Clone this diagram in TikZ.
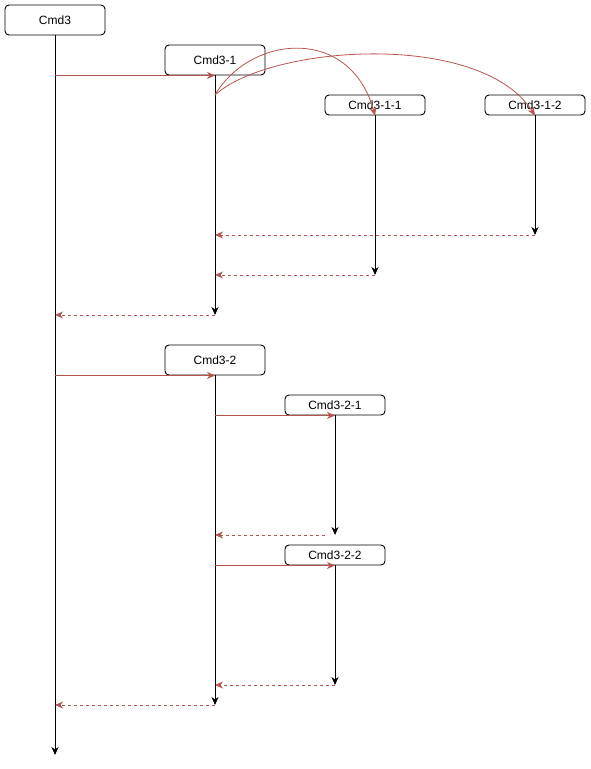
\documentclass[tikz,border=0pt]{standalone}
\usepackage{fontspec}
\setmainfont{Liberation Sans}
\usetikzlibrary{arrows.meta,calc}

\begin{document}
\begin{tikzpicture}[x=1pt,y=-1pt,>={Stealth[length=8pt,width=7pt,inset=2.5pt]}]

\definecolor{msgred}{HTML}{B85450}

\tikzset{
	cmd/.style={draw,rounded corners=4pt,line width=0.9pt,minimum width=100pt,
		inner sep=0pt,font=\fontsize{12}{14}\selectfont},
	life/.style={->,line width=0.9pt},
	call/.style={->,color=msgred,line width=0.8pt},
	ret/.style={->,color=msgred,line width=0.8pt,dash pattern=on 3pt off 3pt}
}

\useasboundingbox (0,0) rectangle (591,769);

% boxes
\node[cmd,minimum height=30pt] (c3)   at (55,20)   {Cmd3};
\node[cmd,minimum height=30pt] (c31)  at (215,60)  {Cmd3-1};
\node[cmd,minimum height=20pt] (c311) at (375,105) {Cmd3-1-1};
\node[cmd,minimum height=20pt] (c312) at (535,105) {Cmd3-1-2};
\node[cmd,minimum height=30pt] (c32)  at (215,360) {Cmd3-2};
\node[cmd,minimum height=20pt] (c321) at (335,405) {Cmd3-2-1};
\node[cmd,minimum height=20pt] (c322) at (335,555) {Cmd3-2-2};

% lifeline ends
\coordinate (c3end)   at (55,755);
\coordinate (c31end)  at (215,315);
\coordinate (c311end) at (375,275);
\coordinate (c312end) at (535,235);
\coordinate (c32end)  at (215,705);
\coordinate (c321end) at (335,535);
\coordinate (c322end) at (335,685);
\coordinate (c31src)  at (215,95);

\draw[life] (c3.south) -- (c3end);
\draw[life] (c31.south) -- (c31end);
\draw[life] (c311.south) -- (c311end);
\draw[life] (c312.south) -- (c312end);
\draw[life] (c32.south) -- (c32end);
\draw[life] (c321.south) -- (c321end);
\draw[life] (c322.south) -- (c322end);

% calls
\draw[call] (c3.south |- c31.south) -- (c31.south);
\draw[call] (c31src) .. controls (250,35) and (350,25) .. (c311.south);
\draw[call] (c31src) .. controls (270,45) and (480,30) .. (c312.south);
\draw[call] (c3.south |- c32.south) -- (c32.south);
\draw[call] (c32.south |- c321.south) -- (c321.south);
\draw[call] (c32.south |- c322.south) -- (c322.south);

% returns
\draw[ret] (c312end) -- (c31.south |- c312end);
\draw[ret] (c311end) -- (c31.south |- c311end);
\draw[ret] (c31end) -- (c3.south |- c31end);
\draw[ret] ($(c321end)+(-10,0)$) -- (c32.south |- c321end);
\draw[ret] (c322end) -- (c32.south |- c322end);
\draw[ret] (c32end) -- (c3.south |- c32end);

\end{tikzpicture}
\end{document}
